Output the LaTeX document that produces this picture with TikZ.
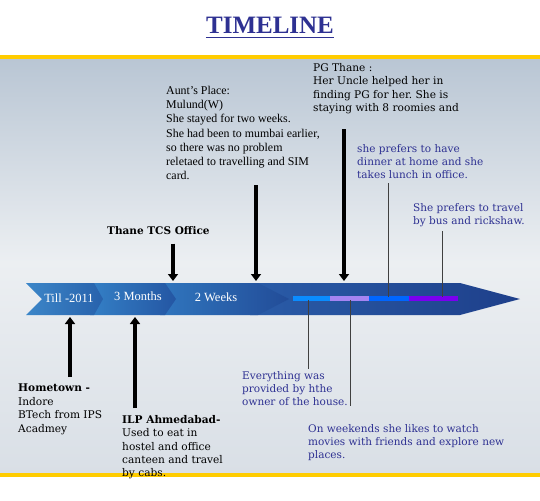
\documentclass[tikz,border=0pt]{standalone}
\usepackage{fontspec}
\setmainfont{Liberation Serif}
\newfontfamily\bluefont{DejaVu Serif}
\usetikzlibrary{arrows.meta}
\frenchspacing
\definecolor{navy}{HTML}{2E3192}
\definecolor{gold}{HTML}{FFCC00}
\definecolor{panetop}{HTML}{B9C6D4}
\definecolor{panemid}{HTML}{ECEFF2}
\definecolor{panebot}{HTML}{D9DFE6}
\definecolor{barcyan}{HTML}{0A8CFF}
\definecolor{barlilac}{HTML}{A584F2}
\definecolor{barblue}{HTML}{0066FF}
\definecolor{barviolet}{HTML}{7A00F0}
\definecolor{bodyl}{HTML}{2A5CA8}
\definecolor{bodyr}{HTML}{1E3F8A}
\definecolor{weeksl}{HTML}{3076BE}
\definecolor{weeksr}{HTML}{224C98}
\definecolor{monthsl}{HTML}{3480C6}
\definecolor{monthsr}{HTML}{2456A3}
\definecolor{tilll}{HTML}{3C86C8}
\definecolor{tillr}{HTML}{2862AC}
\begin{document}
\begin{tikzpicture}[x=1pt,y=-1pt,
  txt/.style={anchor=north west,inner sep=0pt,align=left,font=\bluefont\fontsize{10.6}{13.4}\selectfont},
  bluetxt/.style={txt,text=navy,font=\bluefont\fontsize{10.5}{13.4}\selectfont},
  chevtxt/.style={inner sep=0pt,text=white,font=\fontsize{12.5}{12.5}\selectfont},
  bigarrow/.style={line width=3.2pt,-{Triangle[width=10pt,length=7pt]}},
  lead/.style={draw=black!75,line width=0.9pt},
  goldline/.style={gold,line width=4pt}]
\useasboundingbox[fill=white] (0,0) rectangle (540,500);
\node[inner sep=0pt,text=navy,font=\bfseries\fontsize{25}{25}\selectfont] (title) at (270,25) {TIMELINE};
\draw[navy,line width=1.4pt] ([yshift=-4pt]title.south west) -- ([yshift=-4pt]title.south east);
\shade[top color=panetop,bottom color=panemid] (0,59) rectangle (540,262);
\shade[top color=panemid,bottom color=panebot] (0,261) rectangle (540,473);
\draw[goldline] (0,57) -- (540,57);
\draw[goldline] (0,475) -- (540,475);
\shade[left color=bodyl,right color=bodyr] (250,283) -- (460,283) -- (520,299) -- (460,315) -- (250,315) -- cycle;
\shade[left color=weeksl,right color=weeksr] (160,283) -- (258,283) -- (289,299) -- (258,315) -- (160,315) -- cycle;
\shade[left color=monthsl,right color=monthsr] (90,283) -- (165,283) -- (176,299) -- (165,315) -- (90,315) -- cycle;
\shade[left color=tilll,right color=tillr] (26,283) -- (94,283) -- (103,299) -- (94,315) -- (26,315) -- (42,299) -- cycle;
\node[chevtxt] (till) at (69,298) {Till -2011};
\node[chevtxt] (months) at (138,296) {3 Months};
\node[chevtxt] (weeks) at (216,297) {2 Weeks};
\fill[barcyan] (293,296) rectangle (330,301);
\fill[barlilac] (330,296) rectangle (369,301);
\fill[barblue] (369,296) rectangle (409,301);
\fill[barviolet] (409,296) rectangle (458,301);
\coordinate (b1) at (308,300);
\coordinate (b2) at (350,300);
\coordinate (b3) at (388,297);
\coordinate (b4) at (442,297);
\coordinate (a0) at (70,317);
\coordinate (a1) at (135,317);
\coordinate (a2) at (173,281);
\coordinate (a3) at (256,281);
\coordinate (a4) at (344,281);
\node[txt] (pg) at (313,63) {PG Thane :\\Her Uncle helped her in\\finding PG for her. She is\\staying with 8 roomies and};
\node[txt,font=\fontsize{11.9}{14.2}\selectfont] (aunt) at (166,86) {Aunt's Place:\\Mulund(W)\\She stayed for two weeks.\\She had been to mumbai earlier,\\so there was no problem\\reletaed to travelling and SIM\\card.};
\node[txt,font=\bluefont\bfseries\fontsize{10.5}{13.4}\selectfont] (tcs) at (107,226) {Thane TCS Office};
\node[txt] (home) at (18,384) {\textbf{Hometown -}\\Indore\\BTech from IPS\\Acadmey};
\node[txt] (ilp) at (122,415) {\textbf{ILP Ahmedabad-}\\Used to eat in\\hostel and office\\canteen and travel\\by cabs.};
\node[bluetxt] (dinner) at (357,144) {she prefers to have\\dinner at home and she\\takes lunch in office.};
\node[bluetxt] (travel) at (413,203) {She prefers to travel\\by bus and rickshaw.};
\node[bluetxt] (every) at (242,371) {Everything was\\provided by hthe\\owner of the house.};
\node[bluetxt] (weekend) at (308,424) {On weekends she likes to watch\\movies with friends and explore new\\places.};
\draw[bigarrow] ([yshift=-9pt]tcs.south -| a2) -- (a2);
\draw[bigarrow] ([yshift=-5pt]aunt.south -| a3) -- (a3);
\draw[bigarrow] ([yshift=-15pt]pg.south -| a4) -- (a4);
\draw[bigarrow] ([yshift=7pt]home.north -| a0) -- (a0);
\draw[bigarrow] ([yshift=7pt]ilp.north -| a1) -- (a1);
\draw[lead] (b1) -- ([yshift=2pt]every.north -| b1);
\draw[lead] (b2) -- (every.south -| b2);
\draw[lead] (b3) -- ([yshift=-4pt]dinner.south -| b3);
\draw[lead] (b4) -- ([yshift=-4pt]travel.south -| b4);
\end{tikzpicture}
\end{document}
